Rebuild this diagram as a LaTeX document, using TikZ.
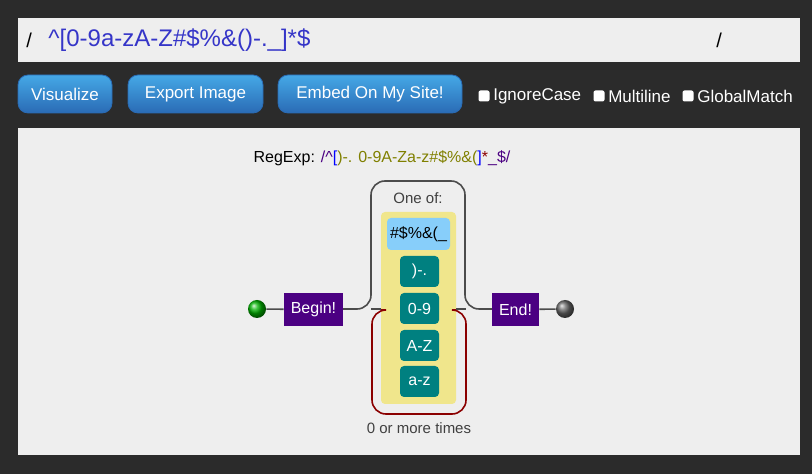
\documentclass[tikz,border=0pt]{standalone}
\usepackage{fontspec}
\setmainfont{Liberation Sans}
\usetikzlibrary{positioning, shapes, calc, shadings}
\definecolor{fondo}{HTML}{2B2B2B}
\definecolor{feld}{HTML}{EEEEEE}
\definecolor{blaurx}{HTML}{3535C8}
\definecolor{knopfo}{HTML}{45A8E6}
\definecolor{knopfu}{HTML}{2A6BB5}
\definecolor{lila}{HTML}{4B0082}
\definecolor{gelb}{HTML}{F0E68C}
\definecolor{hblau}{HTML}{87CEFA}
\definecolor{teal}{HTML}{008080}
\definecolor{rot}{HTML}{8B0000}
\definecolor{oliv}{HTML}{808000}
\tikzset{
    knopf/.style={
        rounded corners=5pt,
        top color=knopfo,
        bottom color=knopfu,
        draw=knopfu,
        text=white,
        font=\fontsize{8.5}{10}\selectfont,
        minimum height=19pt,
        inner sep=0pt
    },
    kaestchen/.style={
        fill=white,
        rounded corners=1pt,
        minimum size=5.5pt,
        inner sep=0pt
    },
    etikett/.style={
        text=white,
        font=\fontsize{8.5}{10}\selectfont,
        anchor=west,
        inner sep=1pt
    },
    marke/.style={
        fill=lila,
        text=white,
        font=\fontsize{8}{10}\selectfont,
        minimum height=16.5pt,
        inner sep=2pt
    },
    zeichen/.style={
        fill=teal,
        text=white,
        rounded corners=2pt,
        font=\fontsize{8}{10}\selectfont,
        minimum width=19.5pt,
        minimum height=15.5pt,
        inner sep=0pt
    },
    linie/.style={draw=black!70, line width=0.8pt}
}
\begin{document}
\begin{tikzpicture}[x=0.5pt, y=-0.5pt]

    % Hintergrund und Felder
    \fill[fondo] (0,0) rectangle (812,474);
    \useasboundingbox (0,0) rectangle (812,474);
    \fill[feld] (18,18) rectangle (800,62);
    \fill[feld] (18,128) rectangle (800,455);

    % Eingabezeile
    \node[anchor=west, font=\fontsize{10}{12}\selectfont, inner sep=0pt] (schraegl) at (26,40) {/};
    \node[anchor=west, text=blaurx, font=\fontsize{12}{14}\selectfont, inner sep=0pt] (ausdruck) at (48,40) {\^{}[0-9a-zA-Z\#\$\%\&()-.\_]*\$};
    \node[anchor=west, font=\fontsize{10}{12}\selectfont, inner sep=0pt] (schraegr) at (716,40) {/};

    % Knoepfe
    \node[knopf, minimum width=47pt] (visualisieren) at (65,94) {Visualize};
    \node[knopf, minimum width=67.5pt] (export) at (195.5,94) {Export Image};
    \node[knopf, minimum width=92pt] (einbetten) at (370,94) {Embed On My Site!};
    \node[kaestchen] (k1) at (484,96) {};
    \node[etikett, right=0.5pt of k1] (ignore) {IgnoreCase};
    \node[kaestchen] (k2) at (599,96) {};
    \node[etikett, right=0.5pt of k2] (multi) {Multiline};
    \node[kaestchen] (k3) at (688,96) {};
    \node[etikett, right=0.5pt of k3] (global) {GlobalMatch};

    % Titel
    \node[font=\fontsize{8}{10}\selectfont, inner sep=0pt] (titel) at (382,158)
        {RegExp: \textcolor{lila}{/\^{}}\textcolor{blue}{[}\textcolor{oliv}{)-. 0-9A-Za-z\#\$\%\&(}\textcolor{blue}{]}\textcolor{rot}{*}\textcolor{lila}{\_\$/}};

    % Gruppen
    \fill[gelb, rounded corners=2pt] (381,212) rectangle (456,404);
    \draw[rot, line width=0.8pt, rounded corners=7pt] (381,310) -- (372,310) -- (372,414) -- (466,414) -- (466,310) -- (456,310);
    \draw[linie, rounded corners=7pt] (343,309) -- (371,309) -- (371,181) -- (465,181) -- (465,309) -- (492,309);
    \node[font=\fontsize{7.5}{9}\selectfont, text=black!75] (einsvon) at (418,198) {One of:};
    \node[font=\fontsize{7.5}{9}\selectfont, text=black!75] (wieder) at (419,428) {0 or more times};

    % Zeichen
    \node[fill=hblau, rounded corners=2pt, minimum width=31.5pt, minimum height=16pt, inner sep=0pt, font=\fontsize{8}{10}\selectfont] (sonder) at (418.5,234) {\#\$\%\&(\_};
    \node[zeichen] (klammer) at (419.5,271.5) {)-.};
    \node[zeichen] (ziffern) at (419.5,308.5) {0-9};
    \node[zeichen] (gross) at (419.5,345.5) {A-Z};
    \node[zeichen] (klein) at (419.5,381.5) {a-z};

    % Anfang und Ende
    \node[marke, minimum width=29.5pt] (anfang) at (313.5,309.5) {Begin!};
    \node[marke, minimum width=23.5pt] (ende) at (515.5,309.5) {End!};
    \node[circle, inner sep=0pt, minimum size=9pt, ball color=green!70!black] (start) at (257,309) {};
    \node[circle, inner sep=0pt, minimum size=9pt, ball color=black!60] (stopp) at (565,309) {};
    \draw[linie] (start) -- (anfang);
    \draw[linie] (ende) -- (stopp);
    \draw[linie] (371,309) -- (381,309);
    \draw[linie] (456,309) -- (466,309);

\end{tikzpicture}
\end{document}
